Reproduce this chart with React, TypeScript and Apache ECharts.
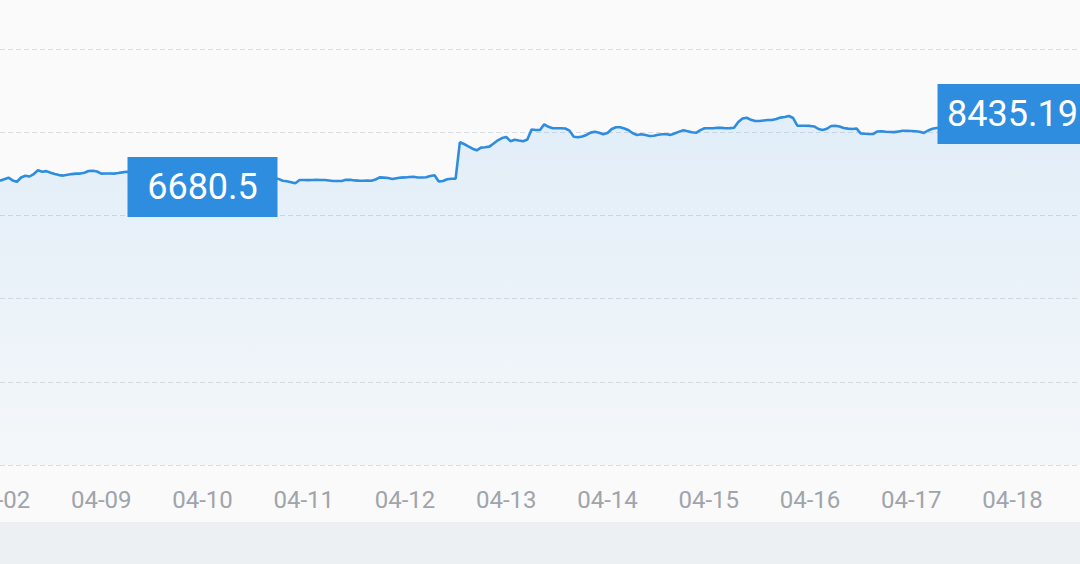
import { useRef, useEffect } from 'react'
import * as echarts from 'echarts'

const DAYS = ['04-02', '04-09', '04-10', '04-11', '04-12', '04-13', '04-14', '04-15', '04-16', '04-17', '04-18']
const HOURS = [
  '00:00', '01:00', '02:00', '03:00', '04:00', '05:00', '06:00', '07:00',
  '08:00', '09:00', '10:00', '11:00', '12:00', '13:00', '14:00', '15:00',
  '16:00', '17:00', '18:00', '19:00', '20:00', '21:00', '22:00', '23:00',
]

// hourly values
const VALUES = [
  6834, 6870, 6906, 6841, 6810, 6911, 6954, 6935, 6995, 7084, 7050, 7065, 7026, 6995, 6969, 6957,
  6976, 6993, 7005, 7005, 7024, 7067, 7074, 7055, 7005, 7007, 7007, 7005, 7019, 7034, 7048,
  7030, 7010, 7022, 6985, 6960, 6972, 6930, 6905, 6880, 6892, 6850, 6820, 6790, 6805, 6760, 6730,
  6705, 6680.5, 6702, 6740, 6765, 6790, 6812, 6840, 6855, 6880, 6872, 6905, 6918, 6930, 6940, 6950,
  6935, 6920, 6900,
  6877, 6834, 6820, 6798, 6772, 6851, 6852, 6849, 6851, 6853, 6850, 6851, 6839, 6827, 6828, 6826,
  6856, 6855, 6841, 6836, 6834, 6835, 6833, 6863, 6913, 6909, 6899, 6875, 6892, 6909, 6913, 6923,
  6928, 6911, 6912, 6916, 6947, 6966, 6815, 6827, 6868, 6880, 6882,
  7757, 7716, 7661, 7603, 7565, 7630, 7637, 7654, 7728, 7805, 7860, 7884, 7784, 7820, 7800, 7784,
  7824, 8065, 8053, 8053, 8190, 8130, 8094, 8094, 8094, 8089, 8038, 7889, 7877, 7896, 7933, 7990,
  8012, 7988, 7949, 7981, 8077, 8118, 8118, 8089, 8048, 7973, 7933, 7949, 7933, 7909, 7916, 7937,
  7949, 7952, 7935, 7976, 8014, 8046, 8024, 7997, 7985, 8050, 8094, 8094, 8096, 8106, 8103, 8094,
  8098, 8108,
  8245, 8329, 8348, 8298, 8269, 8269, 8281, 8293, 8293, 8317, 8351, 8365, 8389, 8341, 8156, 8156,
  8154, 8151, 8139, 8077, 8053, 8082, 8149, 8154, 8139, 8103, 8086, 8077, 8091, 7971, 7961, 7957,
  7957, 8017, 8022, 8010, 8005, 8002, 8019, 8036, 8034, 8029, 8024, 8012, 7981, 8041, 8082, 8101,
  8105, 8130, 8120, 8160, 8185, 8170, 8210, 8240, 8225, 8260, 8290, 8310, 8295, 8330, 8360, 8390,
  8410, 8435.19, 8400, 8370, 8385, 8350, 8330, 8345, 8310, 8290, 8305, 8280, 8300, 8270, 8255, 8275,
  8260, 8250,
]

const CATEGORIES = DAYS.flatMap((d) => HOURS.map((h) => `${d} ${h}`)).slice(0, VALUES.length)

const BLUE = '#2f8de0'

function buildOption(): echarts.EChartsOption {
  return {
    backgroundColor: '#fafafa',
    animation: false,
    textStyle: { fontFamily: 'Roboto' },
    grid: { left: 0, right: 0, top: 49, bottom: 57, containLabel: false, outerBoundsMode: 'none' } as any,
    xAxis: {
      type: 'category',
      data: CATEGORIES,
      boundaryGap: false,
      axisLine: { show: false },
      axisTick: { show: false },
      axisLabel: {
        interval: (idx: number) => idx % HOURS.length === 0,
        formatter: (v: string) => v.slice(0, 5),
        color: '#a0a4ab',
        fontSize: 24,
        margin: 23,
      },
      splitLine: { show: false },
    },
    yAxis: {
      type: 'value',
      min: 0,
      max: 10000,
      interval: 2000,
      axisLabel: { show: false },
      axisLine: { show: false },
      axisTick: { show: false },
      splitLine: { lineStyle: { color: '#dcdde0', width: 1, type: [5, 3] } },
    },
    series: [
      {
        type: 'line',
        data: VALUES,
        symbol: 'none',
        lineStyle: { color: BLUE, width: 2.6 },
        itemStyle: { color: BLUE },
        areaStyle: {
          color: new echarts.graphic.LinearGradient(0, 0, 0, 1, [
            { offset: 0, color: 'rgba(40,145,235,0.17)' },
            { offset: 1, color: 'rgba(40,145,235,0.04)' },
          ]),
        },
        markPoint: {
          symbol: 'rect',
          symbolSize: [150, 60],
          itemStyle: { color: BLUE },
          label: { show: true, position: 'inside', color: '#ffffff', fontSize: 36, fontFamily: 'Roboto' },
          data: [
            { type: 'min', name: 'min' },
            { type: 'max', name: 'max' },
          ],
        },
      },
    ],
  }
}

export default function App() {
  const ref = useRef<HTMLDivElement>(null)

  useEffect(() => {
    const el = ref.current
    if (!el) return
    const chart = echarts.init(el, null, { renderer: 'svg' })
    chart.setOption(buildOption())
    return () => chart.dispose()
  }, [])

  return (
    <div style={{ position: 'fixed', left: 0, top: 0, width: 1080, height: 564, background: '#edf0f3' }}>
      <div ref={ref} style={{ width: 1080, height: 522 }} />
    </div>
  )
}
